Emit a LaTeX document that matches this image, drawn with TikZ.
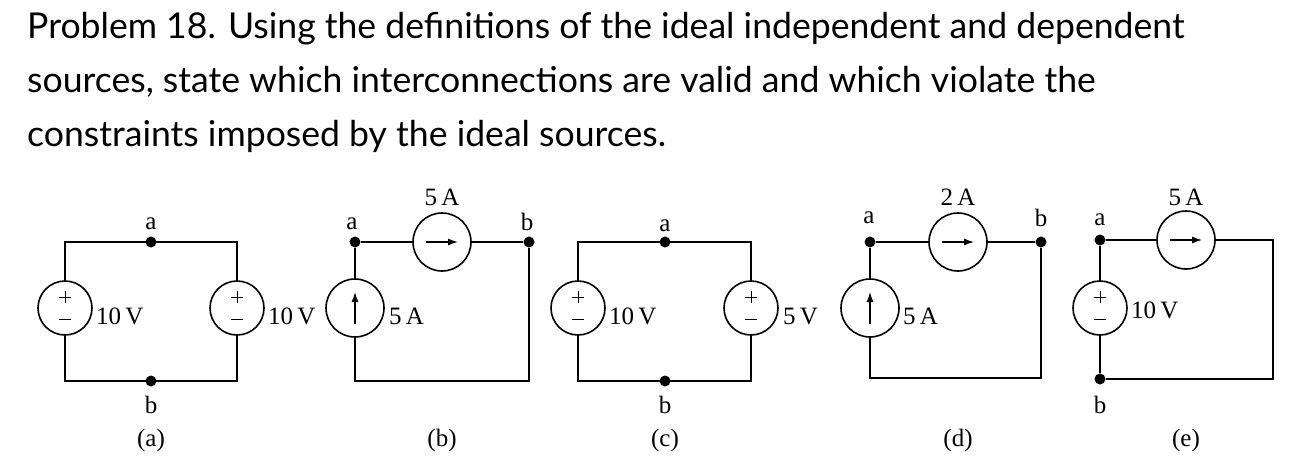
\documentclass[tikz,border=0pt]{standalone}
\usepackage{fontspec}
\setmainfont{Liberation Serif}
\newfontfamily\titlefont{Lato}
\usetikzlibrary{arrows.meta}
\begin{document}
\begin{tikzpicture}[x=1pt,y=-1pt,
  wire/.style={line width=1.1pt},
  vs/.style={circle,draw,line width=1.6pt,minimum size=54pt,inner sep=0pt,fill=white},
  cs/.style={circle,draw,line width=1.6pt,minimum size=58pt,inner sep=0pt,fill=white},
  dot/.style={circle,fill,inner sep=0pt,minimum size=11pt},
  lbl/.style={font=\fontsize{25}{25}\selectfont,inner sep=0pt},
  ttl/.style={font=\titlefont\fontsize{35.6}{35.6}\selectfont,anchor=base west,inner sep=0pt},
  arr/.style={line width=1.2pt,-{Latex[length=10pt,width=7pt]}}]
\useasboundingbox[fill=white] (0,0) rectangle (1292,472);
\node[ttl] (t1) at (27,38) {Problem 18. Using the definitions of the ideal independent and dependent};
\node[ttl] (t2) at (27,92) {sources, state which interconnections are valid and which violate the};
\node[ttl] (t3) at (27,146) {constraints imposed by the ideal sources.};
\newcommand{\vsrc}[2]{\node[vs] (#1) at (#2) {};
  \draw[line width=1pt] ([shift={(-6,-11)}]#1.center) -- ++(12,0) ([shift={(0,-17)}]#1.center) -- ++(0,12) ([shift={(-6,11)}]#1.center) -- ++(12,0);}
\newcommand{\csup}[2]{\node[cs] (#1) at (#2) {};
  \draw[arr] ([yshift=-16]#1.center) -- ([yshift=16]#1.center);}
\newcommand{\csright}[2]{\node[cs] (#1) at (#2) {};
  \draw[arr] ([xshift=-16]#1.center) -- ([xshift=16]#1.center);}
% (a)
\coordinate (aTL) at (65,242); \coordinate (aTR) at (237,242);
\coordinate (aBL) at (65,381); \coordinate (aBR) at (237,381);
\draw[wire] (aTL) -- (aTR) -- (aBR) -- (aBL) -- cycle;
\vsrc{aV1}{65,308} \vsrc{aV2}{237,308}
\node[dot] (aA) at (151,242) {}; \node[dot] (aB) at (151,381) {};
\node[lbl] at (151,224) {a}; \node[lbl] at (151,405) {b};
\node[lbl,anchor=west] at (96,316) {10\,V};
\node[lbl,anchor=west] at (268,316) {10\,V};
\node[lbl] at (151,440) {(a)};
% (b)
\coordinate (bBL) at (355,381); \coordinate (bBR) at (529,381);
\node[dot] (bA) at (355,242) {}; \node[dot] (bB) at (529,242) {};
\draw[wire] (bA) -- (bB) -- (bBR) -- (bBL) -- (bA);
\csup{bI1}{355,308} \csright{bI2}{442,242}
\node[lbl] at (352,224) {a}; \node[lbl] at (527,222) {b};
\node[lbl] at (442,197) {5\,A};
\node[lbl,anchor=west] at (389,316) {5\,A};
\node[lbl] at (442,440) {(b)};
% (c)
\coordinate (cTL) at (578,242); \coordinate (cTR) at (751,242);
\coordinate (cBL) at (578,381); \coordinate (cBR) at (751,381);
\draw[wire] (cTL) -- (cTR) -- (cBR) -- (cBL) -- cycle;
\vsrc{cV1}{578,308} \vsrc{cV2}{751,308}
\node[dot] (cA) at (665,242) {}; \node[dot] (cB) at (665,381) {};
\node[lbl] at (665,226) {a}; \node[lbl] at (665,405) {b};
\node[lbl,anchor=west] at (609,316) {10\,V};
\node[lbl,anchor=west] at (783,316) {5\,V};
\node[lbl] at (665,440) {(c)};
% (d)
\coordinate (dBL) at (870,378); \coordinate (dBR) at (1041,378);
\node[dot] (dA) at (870,242) {}; \node[dot] (dB) at (1041,242) {};
\draw[wire] (dA) -- (dB) -- (dBR) -- (dBL) -- (dA);
\csup{dI1}{870,308} \csright{dI2}{958,242}
\node[lbl] at (869,218) {a}; \node[lbl] at (1041,218) {b};
\node[lbl] at (958,197) {2\,A};
\node[lbl,anchor=west] at (903,316) {5\,A};
\node[lbl] at (958,440) {(d)};
% (e)
\coordinate (eTR) at (1273,240); \coordinate (eBR) at (1273,379);
\node[dot] (eA) at (1100,240) {}; \node[dot] (eB) at (1100,379) {};
\draw[wire] (eA) -- (eTR) -- (eBR) -- (eB) -- (eA);
\vsrc{eV}{1100,308} \csright{eI}{1186,240}
\node[lbl] at (1100,220) {a}; \node[lbl] at (1100,405) {b};
\node[lbl] at (1186,197) {5\,A};
\node[lbl,anchor=west] at (1131,310) {10\,V};
\node[lbl] at (1186,440) {(e)};
\end{tikzpicture}
\end{document}
